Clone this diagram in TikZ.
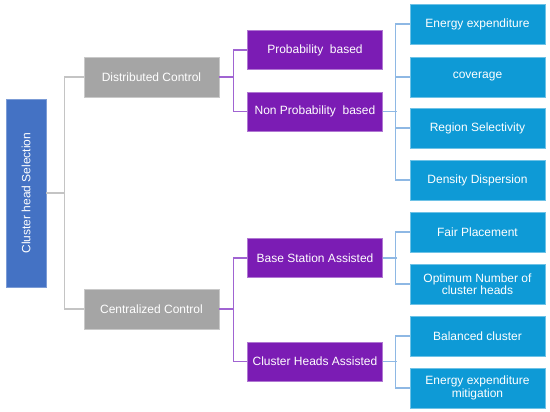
\documentclass[tikz,border=0pt]{standalone}
\usepackage{fontspec}
\setmainfont{Liberation Sans}
\definecolor{rootblue}{HTML}{4472C4}
\definecolor{boxgray}{HTML}{A5A5A5}
\definecolor{boxpurple}{HTML}{7B1CB4}
\definecolor{boxcyan}{HTML}{0E9AD6}
\definecolor{lgray}{HTML}{C4C4C4}
\definecolor{lpurple}{HTML}{A064D2}
\definecolor{lblue}{HTML}{8EB8E4}
\begin{document}
\begin{tikzpicture}[x=1pt,y=-1pt,
  box/.style={rectangle, inner sep=0pt, align=center, text=white, font=\fontsize{12}{12.5}\selectfont, line width=0.8pt},
  rootbox/.style={box, fill=rootblue, draw=rootblue!70!white, minimum width=40pt, minimum height=188pt},
  graybox/.style={box, fill=boxgray, draw=boxgray!60!white, minimum width=135pt, minimum height=40pt},
  purplebox/.style={box, fill=boxpurple, draw=boxpurple!60!white, minimum width=135pt, minimum height=39pt},
  cyanbox/.style={box, fill=boxcyan, draw=boxcyan!60!white, minimum width=135pt, minimum height=40pt},
  gline/.style={draw=lgray, line width=1.2pt},
  pline/.style={draw=lpurple, line width=1.2pt},
  bline/.style={draw=lblue, line width=1.2pt}]
\useasboundingbox (0,0) rectangle (550,412);
\node[rootbox] (root) at (26,193) {\rotatebox{90}{Cluster head Selection}};
\node[graybox] (dc) at (151.5,77) {Distributed Control};
\node[graybox] (cc) at (151.5,309) {Centralized Control};
\node[purplebox] (pb) at (315,50) {Probability\ \ based};
\node[purplebox] (npb) at (315,111.5) {Non Probability\ \ based};
\node[purplebox] (bsa) at (315,258) {Base Station Assisted};
\node[purplebox] (cha) at (315,361.5) {Cluster Heads Assisted};
\node[cyanbox] (ee) at (477.5,24) {Energy expenditure};
\node[cyanbox] (cov) at (477.5,77) {coverage};
\node[cyanbox] (rs) at (477.5,128) {Region Selectivity};
\node[cyanbox] (dd) at (477.5,180) {Density Dispersion};
\node[cyanbox] (fp) at (477.5,232) {Fair Placement};
\node[cyanbox] (onc) at (477.5,284) {Optimum Number of\\cluster heads};
\node[cyanbox] (bc) at (477.5,336) {Balanced cluster};
\node[cyanbox] (eem) at (477.5,388) {Energy expenditure\\mitigation};
% root to level 1
\draw[gline] (root.east) -- ++(19,0);
\draw[gline] (dc.west) -- ++(-19,0) |- (cc.west);
% distributed
\draw[pline] (dc.east) -- ++(14,0);
\draw[pline] (pb.west) -- ++(-14,0) |- (npb.west);
% centralized
\draw[pline] (cc.east) -- ++(14,0);
\draw[pline] (bsa.west) -- ++(-14,0) |- (cha.west);
% non probability
\draw[bline] (npb.east) -- ++(14,0);
\draw[bline] (ee.west) -- ++(-14,0) |- (dd.west);
\draw[bline] (cov.west) -- ++(-14,0);
\draw[bline] (rs.west) -- ++(-14,0);
% base station
\draw[bline] (bsa.east) -- ++(14,0);
\draw[bline] (fp.west) -- ++(-14,0) |- (onc.west);
% cluster heads
\draw[bline] (cha.east) -- ++(14,0);
\draw[bline] (bc.west) -- ++(-14,0) |- (eem.west);
\end{tikzpicture}
\end{document}
